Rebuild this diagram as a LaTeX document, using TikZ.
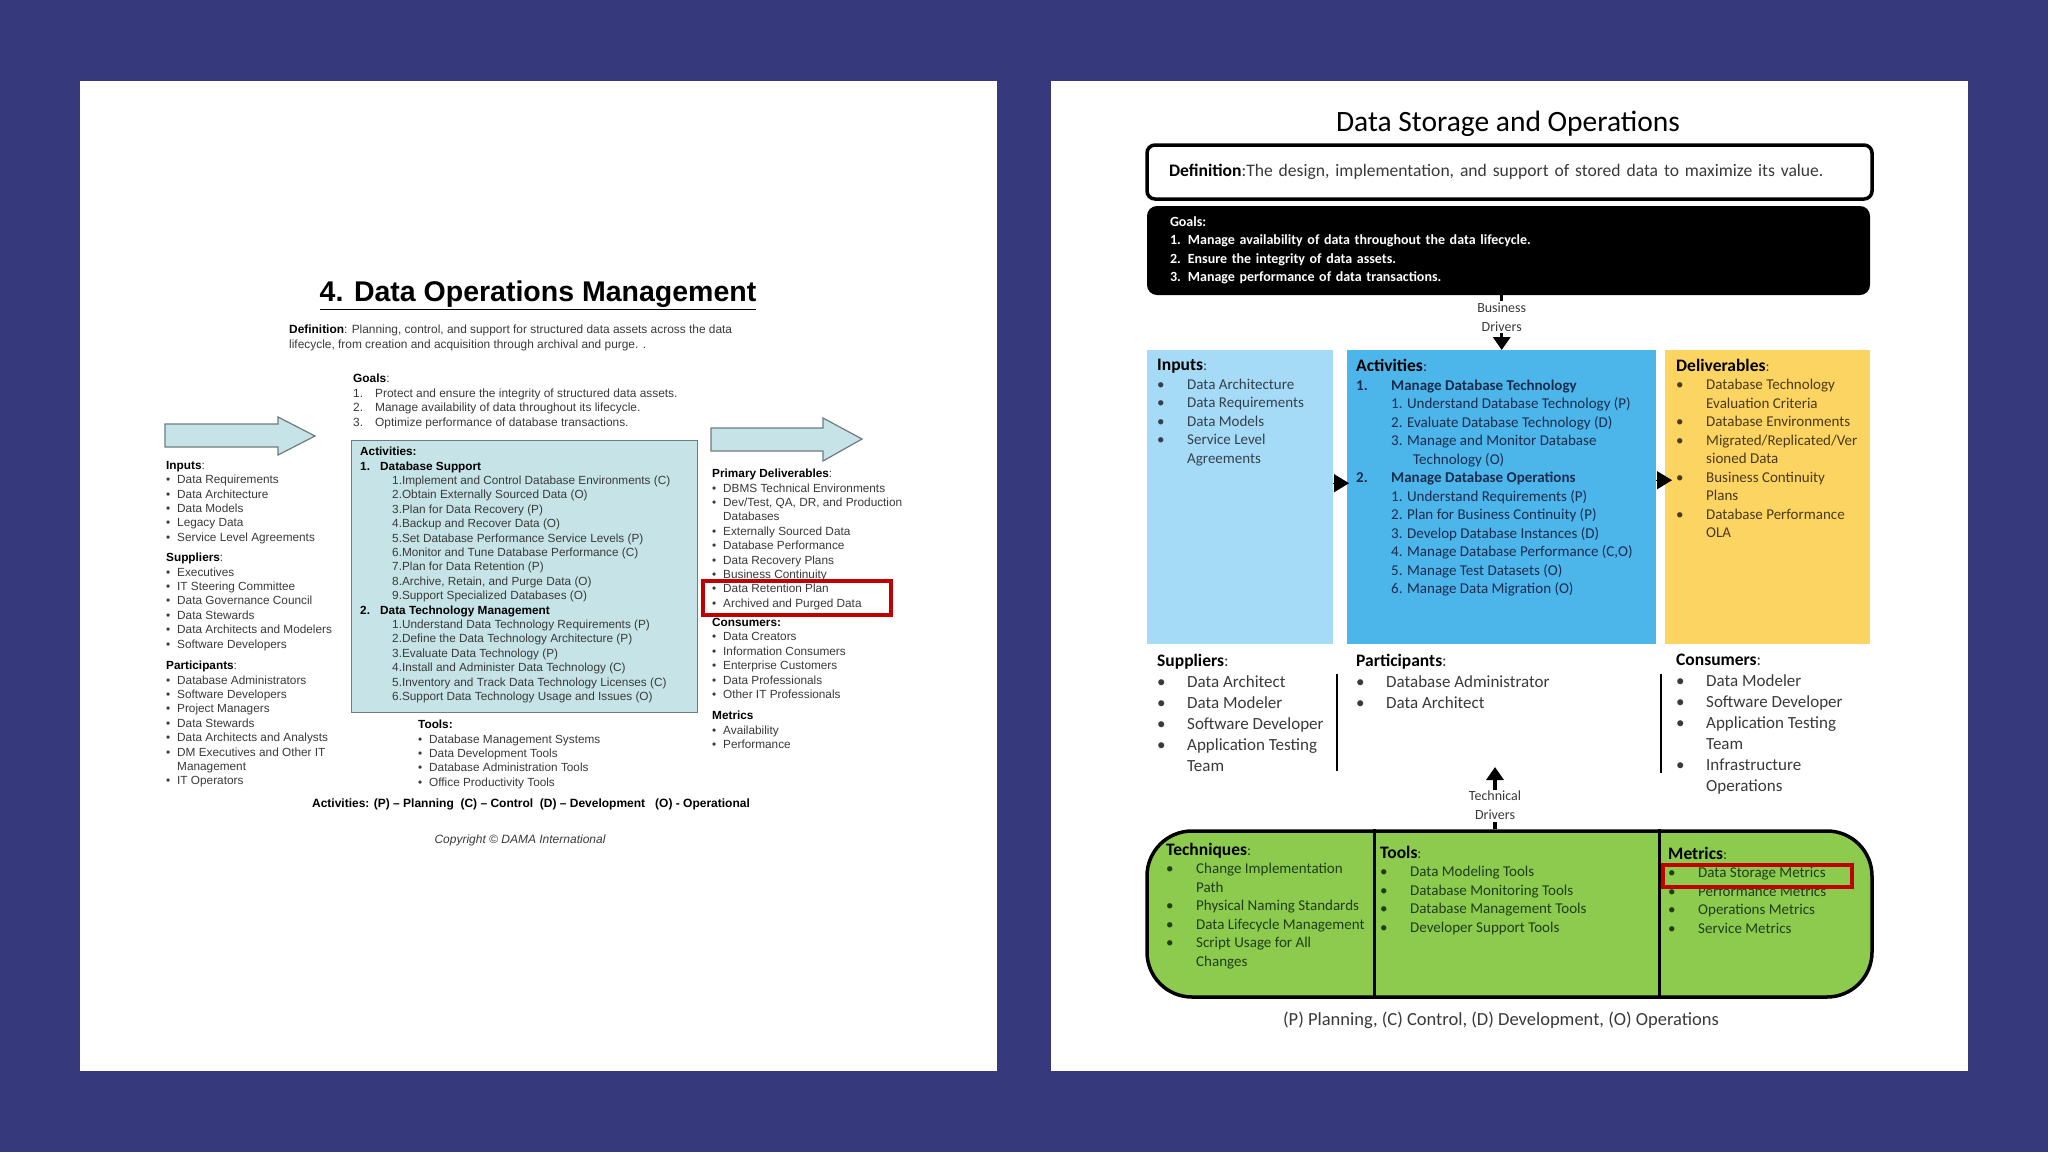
\documentclass[tikz,border=0pt]{standalone}
\usepackage{fontspec}
\setmainfont{Liberation Sans}
\newfontfamily\gillfont{Carlito}
\usetikzlibrary{positioning,calc,arrows.meta}
\definecolor{domBack}{HTML}{36397C}
\definecolor{domText}{HTML}{3A3A3A}
\definecolor{domArrowFill}{HTML}{C6E4E7}
\definecolor{domArrowLine}{HTML}{6E7C7E}
\definecolor{domRed}{HTML}{C00000}
\definecolor{dsoInputs}{HTML}{A6DBF7}
\definecolor{dsoActs}{HTML}{4CB5EA}
\definecolor{dsoDeliv}{HTML}{FCD462}
\definecolor{dsoGreen}{HTML}{8DCB4F}
\definecolor{dsoNavy}{HTML}{1B2C4E}
\definecolor{dsoSlate}{HTML}{34404C}
\definecolor{dsoBrown}{HTML}{4A3A17}
\definecolor{dsoLeaf}{HTML}{1F3E1A}
\definecolor{dsoGrey}{HTML}{3A3A3A}

\newcommand\lbul{\makebox[11pt][l]{\textbullet}}
\newcommand\rbul{\makebox[30pt][l]{\textbullet}}
\newcommand\indt[1]{\hspace*{#1pt}}
\newcommand\numbox[2]{\makebox[#1pt][l]{#2}}
\newcommand\boxhead[1]{{\color{black}\fontsize{17.5}{18.5}\selectfont\bfseries #1}}

\tikzset{
  ltxt/.style={anchor=north west, inner sep=0pt, align=left, text=domText,
    font=\fontsize{11.8}{14.4}\selectfont},
  lbox/.style={draw=domArrowLine, fill=domArrowFill, line width=1.2pt},
  hlbox/.style={draw=domRed, line width=3.5pt, inner sep=0pt},
  rtxt/.style={anchor=north west, inner sep=0pt, align=left,
    font=\gillfont\fontsize{15}{18.5}\selectfont},
  rlow/.style={rtxt, text=dsoGrey, font=\gillfont\fontsize{17}{21}\selectfont},
  rbox/.style={anchor=north west, inner sep=0pt, minimum height=294pt},
  drv/.style={line width=3.5pt, -{Triangle[length=13pt,width=17pt]}},
  drvlab/.style={fill=white, inner sep=1.5pt, align=center, text=dsoGrey,
    font=\gillfont\fontsize{14}{19}\selectfont},
  pointer/.style={line width=1pt, -{Triangle[length=15pt,width=18pt]}},
}

\begin{document}
\begin{tikzpicture}[x=1pt, y=-1pt]
\useasboundingbox (0,0) rectangle (2048,1152);
\fill[domBack] (0,0) rectangle (2048,1152);
\fill[white] (80,81) rectangle (997,1071);
\fill[white] (1051,81) rectangle (1968,1071);

%% ===== left slide: DAMA context diagram =====
\node[font=\bfseries\fontsize{28.5}{30}\selectfont] (ltitle) at (538,295)
  {\underline{4. Data Operations Management}};
\node[ltxt, font=\fontsize{11.9}{14.4}\selectfont, text=domText] (ldef) at (289,325)
  {\textcolor{black}{\textbf{Definition}}: Planning, control, and support for structured data assets across the data\\
   lifecycle, from creation and acquisition through archival and purge. .};
\node[ltxt, font=\fontsize{11.9}{14.4}\selectfont] (lgoals) at (353,374)
  {\textcolor{black}{\textbf{Goals}}:\\
   \numbox{22}{1.}Protect and ensure the integrity of structured data assets.\\
   \numbox{22}{2.}Manage availability of data throughout its lifecycle.\\
   \numbox{22}{3.}Optimize performance of database transactions.};

% big block arrows
\draw[lbox] (165,424) -- (278,424) -- (278,417) -- (315,436) -- (278,455)
  -- (278,447) -- (165,447) -- cycle;
\draw[lbox] (711,428) -- (823,428) -- (823,418) -- (862,439) -- (823,461)
  -- (823,451) -- (711,451) -- cycle;

\node[ltxt] (linputs) at (166,461)
  {\textcolor{black}{\textbf{Inputs}}:\\
   \lbul Data Requirements\\ \lbul Data Architecture\\ \lbul Data Models\\
   \lbul Legacy Data\\ \lbul Service Level Agreements};
\node[ltxt] (lsupp) at (166,553)
  {\textcolor{black}{\textbf{Suppliers}}:\\
   \lbul Executives\\ \lbul IT Steering Committee\\ \lbul Data Governance Council\\
   \lbul Data Stewards\\ \lbul Data Architects and Modelers\\ \lbul Software Developers};
\node[ltxt] (lpart) at (166,661)
  {\textcolor{black}{\textbf{Participants}}:\\
   \lbul Database Administrators\\ \lbul Software Developers\\ \lbul Project Managers\\
   \lbul Data Stewards\\ \lbul Data Architects and Analysts\\
   \lbul DM Executives and Other IT\\ \indt{11}Management\\ \lbul IT Operators};

\node[lbox, anchor=north west, minimum width=346pt, minimum height=272pt,
      inner sep=0pt] (lacts) at (351,440) {};
\node[ltxt] (lactstxt) at (360,447)
  {\textcolor{black}{\textbf{Activities:}}\\
   \textcolor{black}{\textbf{\numbox{20}{1.}Database Support}}\\
   \indt{32}1.Implement and Control Database Environments (C)\\
   \indt{32}2.Obtain Externally Sourced Data (O)\\
   \indt{32}3.Plan for Data Recovery (P)\\
   \indt{32}4.Backup and Recover Data (O)\\
   \indt{32}5.Set Database Performance Service Levels (P)\\
   \indt{32}6.Monitor and Tune Database Performance (C)\\
   \indt{32}7.Plan for Data Retention (P)\\
   \indt{32}8.Archive, Retain, and Purge Data (O)\\
   \indt{32}9.Support Specialized Databases (O)\\
   \textcolor{black}{\textbf{\numbox{20}{2.}Data Technology Management}}\\
   \indt{32}1.Understand Data Technology Requirements (P)\\
   \indt{32}2.Define the Data Technology Architecture (P)\\
   \indt{32}3.Evaluate Data Technology (P)\\
   \indt{32}4.Install and Administer Data Technology (C)\\
   \indt{32}5.Inventory and Track Data Technology Licenses (C)\\
   \indt{32}6.Support Data Technology Usage and Issues (O)};

\node[ltxt] (ltools) at (418,720)
  {\textcolor{black}{\textbf{Tools:}}\\
   \lbul Database Management Systems\\ \lbul Data Development Tools\\
   \lbul Database Administration Tools\\ \lbul Office Productivity Tools};

\node[ltxt] (ldeliv) at (712,469)
  {\textcolor{black}{\textbf{Primary Deliverables}}:\\
   \lbul DBMS Technical Environments\\ \lbul Dev/Test, QA, DR, and Production\\
   \indt{11}Databases\\ \lbul Externally Sourced Data\\ \lbul Database Performance\\
   \lbul Data Recovery Plans\\ \lbul Business Continuity\\ \lbul Data Retention Plan\\
   \lbul Archived and Purged Data};
\node[ltxt] (lcons) at (712,618)
  {\textcolor{black}{\textbf{Consumers:}}\\
   \lbul Data Creators\\ \lbul Information Consumers\\ \lbul Enterprise Customers\\
   \lbul Data Professionals\\ \lbul Other IT Professionals};
\node[ltxt] (lmetrics) at (712,711)
  {\textcolor{black}{\textbf{Metrics}}\\ \lbul Availability\\ \lbul Performance};

\node[font=\bfseries\fontsize{12}{13}\selectfont] (lkey) at (531,804)
  {Activities: (P) -- Planning\ \ (C) -- Control\ \ (D) -- Development\ \ \ (O) - Operational};
\node[font=\itshape\fontsize{12}{13}\selectfont, text=domText] (lcopy) at (520,840)
  {Copyright \textcopyright\ DAMA International};

\node[hlbox, minimum width=188pt, minimum height=34pt] (lhl) at (797,598) {};

%% ===== right slide: data storage and operations =====
\node[font=\gillfont\fontsize{29.5}{31}\selectfont] (rtitle) at (1508,124)
  {Data Storage and Operations};
\node[draw, line width=3.5pt, rounded corners=8pt, minimum width=725pt,
      minimum height=54pt, inner xsep=22pt, text width=681pt, align=left,
      font=\gillfont\fontsize{17.6}{19}\selectfont, text=dsoGrey] (rdef) at (1509.5,172)
  {\textcolor{black}{\textbf{Definition}}:The design, implementation, and support of stored data to maximize its value.};
\node[fill=black, rounded corners=10pt, minimum width=723pt, minimum height=89pt,
      inner xsep=23pt, text width=677pt, align=left, text=white,
      font=\gillfont\bfseries\fontsize{14}{18.5}\selectfont] (rgoal) at (1508.5,250.5)
  {Goals:\\
   1. Manage availability of data throughout the data lifecycle.\\
   2. Ensure the integrity of data assets.\\
   3. Manage performance of data transactions.};

\node[rbox, fill=dsoInputs, minimum width=186pt] (inp) at (1147,350) {};
\node[rbox, fill=dsoActs, minimum width=309pt] (acts) at (1347,350) {};
\node[rbox, fill=dsoDeliv, minimum width=205pt] (deliv) at (1665,350) {};

\node[rtxt, text=dsoSlate] (inptxt) at (1157,359)
  {\boxhead{Inputs}:\\
   \rbul Data Architecture\\ \rbul Data Requirements\\ \rbul Data Models\\
   \rbul Service Level\\ \indt{30}Agreements};
\node[rtxt, text=dsoNavy] (actstxt) at (1356,359)
  {\boxhead{Activities}:\\
   \textbf{\numbox{35}{1.}Manage Database Technology}\\
   \indt{35}1. Understand Database Technology (P)\\
   \indt{35}2. Evaluate Database Technology (D)\\
   \indt{35}3. Manage and Monitor Database\\
   \indt{57}Technology (O)\\
   \textbf{\numbox{35}{2.}Manage Database Operations}\\
   \indt{35}1. Understand Requirements (P)\\
   \indt{35}2. Plan for Business Continuity (P)\\
   \indt{35}3. Develop Database Instances (D)\\
   \indt{35}4. Manage Database Performance (C,O)\\
   \indt{35}5. Manage Test Datasets (O)\\
   \indt{35}6. Manage Data Migration (O)};
\node[rtxt, text=dsoBrown] (delivtxt) at (1676,359)
  {\boxhead{Deliverables}:\\
   \rbul Database Technology\\ \indt{30}Evaluation Criteria\\
   \rbul Database Environments\\
   \rbul Migrated/Replicated/Ver\\ \indt{30}sioned Data\\
   \rbul Business Continuity\\ \indt{30}Plans\\
   \rbul Database Performance\\ \indt{30}OLA};

% business drivers down into activities
\draw[drv] (acts.north |- rgoal.south) -- node[drvlab, pos=0.4] (bdrv) {Business\\Drivers} (acts.north);
\draw[pointer] ([yshift=14pt]inp.east) -- ([xshift=2pt,yshift=14pt]acts.west);
\draw[pointer] ([yshift=17pt]acts.east) -- ([xshift=7pt,yshift=17pt]deliv.west);

\node[rlow] (supp) at (1157,654)
  {\boxhead{Suppliers}:\\
   \rbul Data Architect\\ \rbul Data Modeler\\ \rbul Software Developer\\
   \rbul Application Testing\\ \indt{30}Team};
\node[rlow] (part) at (1356,654)
  {\boxhead{Participants}:\\
   \rbul Database Administrator\\ \rbul Data Architect};
\node[rlow] (cons) at (1676,654)
  {\boxhead{Consumers}:\\
   \rbul Data Modeler\\ \rbul Software Developer\\
   \rbul Application Testing\\ \indt{30}Team\\
   \rbul Infrastructure\\ \indt{30}Operations};
\draw[line width=2pt] (1337,674) -- (1337,771);
\draw[line width=2pt] (1661,674) -- (1661,773);

% green enablers band
\node[draw, line width=3.5pt, fill=dsoGreen, rounded corners=45pt,
      minimum width=725pt, minimum height=166pt, inner sep=0pt] (grn) at (1509.5,914) {};
\coordinate (dv1) at (1374,0);
\coordinate (dv2) at (1659,0);
\draw[line width=3pt] (grn.north -| dv1) -- (grn.south -| dv1);
\draw[line width=3pt] (grn.north -| dv2) -- (grn.south -| dv2);

\coordinate (tdtip) at (1495,767);
\draw[drv] (grn.north -| tdtip) -- node[drvlab, pos=0.38] (tdrv) {Technical\\Drivers} (tdtip);

\node[rtxt, text=dsoLeaf] (tech) at (1166,843)
  {\boxhead{Techniques}:\\
   \rbul Change Implementation\\ \indt{30}Path\\
   \rbul Physical Naming Standards\\ \rbul Data Lifecycle Management\\
   \rbul Script Usage for All\\ \indt{30}Changes};
\node[rtxt, text=dsoLeaf] (tools) at (1380,846)
  {\boxhead{Tools}:\\
   \rbul Data Modeling Tools\\ \rbul Database Monitoring Tools\\
   \rbul Database Management Tools\\ \rbul Developer Support Tools};
\node[rtxt, text=dsoLeaf] (metr) at (1668,847)
  {\boxhead{Metrics}:\\
   \rbul Data Storage Metrics\\ \rbul Performance Metrics\\
   \rbul Operations Metrics\\ \rbul Service Metrics};

\node[hlbox, minimum width=189pt, minimum height=22pt] (rhl) at (1757.5,876) {};

\node[font=\gillfont\fontsize{18.5}{20}\selectfont, text=dsoGrey] (rkey) at (1501,1020)
  {(P) Planning, (C) Control, (D) Development, (O) Operations};

\end{tikzpicture}
\end{document}
